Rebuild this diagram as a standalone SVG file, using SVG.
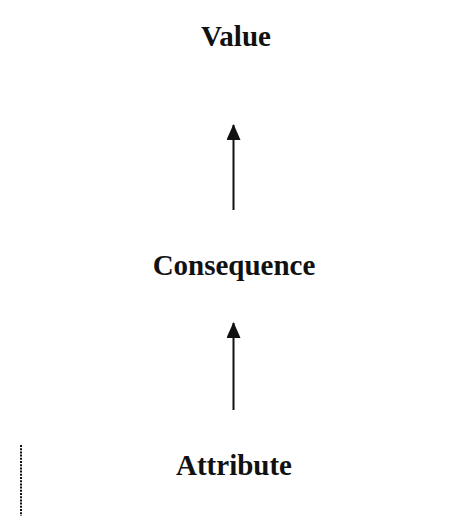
<svg xmlns="http://www.w3.org/2000/svg" width="474" height="516" viewBox="0 0 474 516">
<defs>
<style>
.lbl{font-family:"Liberation Serif","Times New Roman",serif;font-weight:bold;font-size:29px;fill:#111;text-anchor:middle}
.conn{stroke:#111;stroke-width:2;fill:none}
</style>
<marker id="ah" viewBox="0 0 16 14" refX="15" refY="7" markerWidth="16" markerHeight="14" markerUnits="userSpaceOnUse" orient="auto">
<path d="M16,7 L0,0 L0,14 Z" fill="#111"/>
</marker>
</defs>
<rect width="474" height="516" fill="#fff"/>
<g id="value"><text class="lbl" x="236" y="46">Value</text></g>
<g id="consequence"><text class="lbl" x="234" y="275">Consequence</text></g>
<g id="attribute"><text class="lbl" x="234" y="475">Attribute</text></g>
<g id="connectors">
<line class="conn" x1="233.5" y1="210" x2="233.5" y2="125" marker-end="url(#ah)"/>
<line class="conn" x1="233.5" y1="410" x2="233.5" y2="323" marker-end="url(#ah)"/>
</g>
<line x1="21" y1="445" x2="21" y2="516" stroke="#111" stroke-width="2" stroke-dasharray="2,1.2"/>
</svg>
